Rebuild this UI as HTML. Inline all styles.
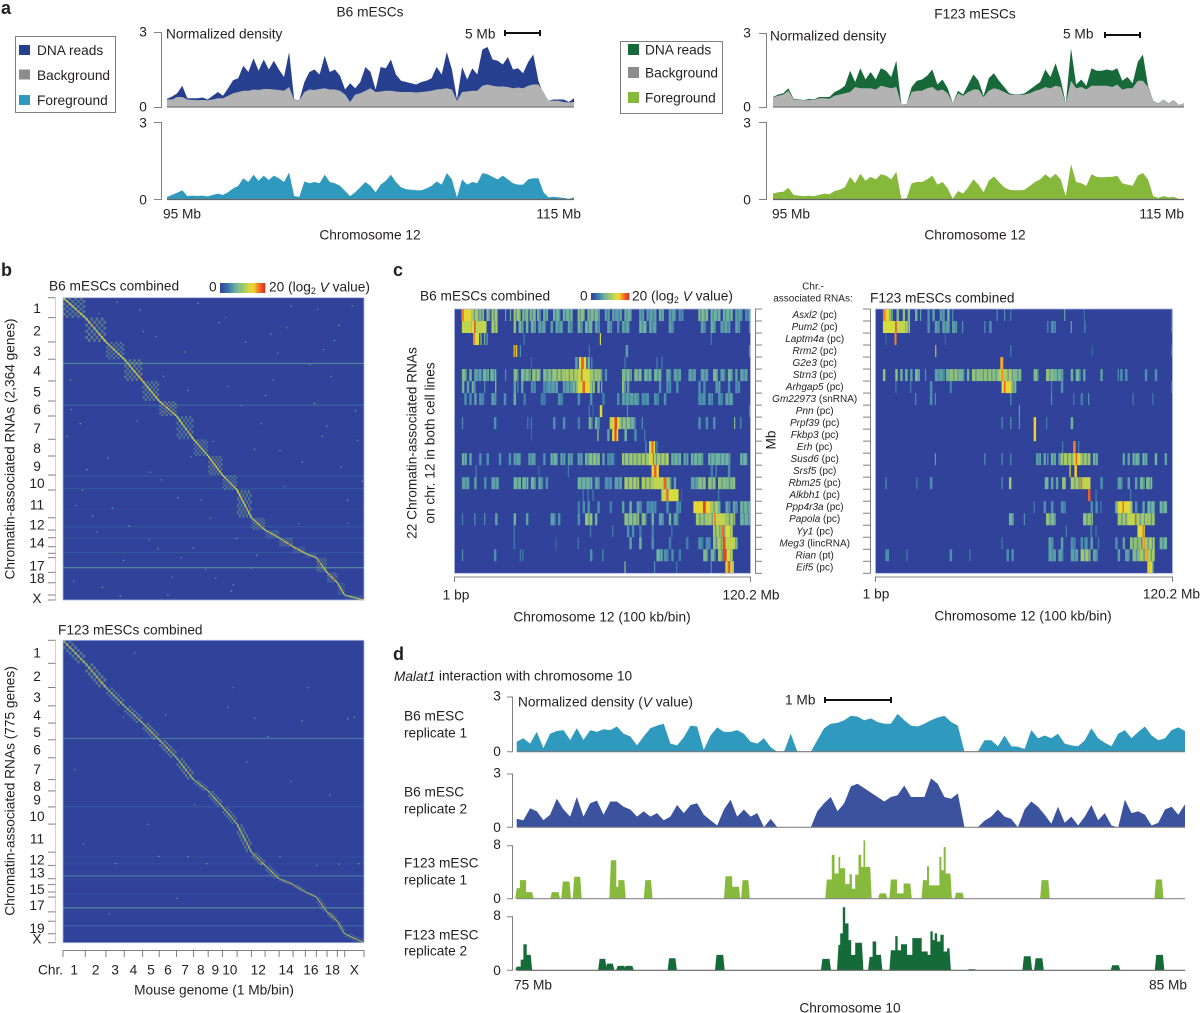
<!DOCTYPE html>
<html lang="en">
<head>
<meta charset="utf-8">
<title>Chromatin-associated RNA figure</title>
<style>
html,body{margin:0;padding:0;background:#fff;}
svg{display:block;font-family:"Liberation Sans",Arial,sans-serif;fill:#231f20;}
text{font-size:13.7px;}
.c{text-anchor:middle;}
.e{text-anchor:end;}
.m{dominant-baseline:central;}
.letter{font-size:18px;font-weight:bold;}
.ax{stroke:#808080;stroke-width:1;fill:none;}
.bar{stroke:#111;stroke-width:2;fill:none;}
</style>
</head>
<body>
<svg id="fig" xmlns="http://www.w3.org/2000/svg" width="1200" height="1013" viewBox="0 0 1200 1013">
  <g id="panel-a">
    <text class="letter m" x="1" y="8">a</text>
    <text class="c m" x="370" y="12">B6 mESCs</text>
    <rect x="15.5" y="36.5" width="100" height="76" fill="#fff" stroke="#808080"/>
    <rect x="19" y="45" width="11" height="10" fill="#26408F"/>
    <rect x="19" y="69.500" width="11" height="10" fill="#8c8c8c"/>
    <rect x="19" y="95" width="11" height="10" fill="#2F9ABD"/>
    <text class="m" x="37" y="50.500">DNA reads</text>
    <text class="m" x="37" y="75.500">Background</text>
    <text class="m" x="37" y="100.500">Foreground</text>
    <text class="c m" x="143" y="32">3</text>
    <text class="c m" x="143" y="107">0</text>
    <path class="ax" d="M154 32.500H161.500V107.500H154"/>
    <text class="c m" x="143" y="123">3</text>
    <text class="c m" x="143" y="200">0</text>
    <path class="ax" d="M154 122.500H161.500V199.500H154"/>
    <text class="m" x="166" y="34">Normalized density</text>
    <text class="m" x="465" y="34">5 Mb</text>
    <path class="bar" d="M505 33H540M505 30V36M540 30V36"/>
    <text class="m" x="163" y="214">95 Mb</text>
    <text class="e m" x="581" y="214">115 Mb</text>
    <text class="c m" x="370" y="235">Chromosome 12</text>

    <text class="c m" x="975" y="14">F123 mESCs</text>
    <rect x="620.500" y="41.500" width="102" height="72" fill="#fff" stroke="#808080"/>
    <rect x="628" y="44" width="11" height="11" fill="#17693A"/>
    <rect x="628" y="67" width="11" height="11" fill="#8c8c8c"/>
    <rect x="628" y="92" width="11" height="11" fill="#85B83B"/>
    <text class="m" x="645" y="50">DNA reads</text>
    <text class="m" x="645" y="73">Background</text>
    <text class="m" x="645" y="98">Foreground</text>
    <text class="c m" x="747" y="33">3</text>
    <text class="c m" x="747" y="107">0</text>
    <path class="ax" d="M759 33.500H766.500V107.500H759"/>
    <text class="c m" x="747" y="123">3</text>
    <text class="c m" x="747" y="200">0</text>
    <path class="ax" d="M759 122.500H766.500V199.500H759"/>
    <text class="m" x="770" y="36">Normalized density</text>
    <text class="m" x="1063" y="34">5 Mb</text>
    <path class="bar" d="M1105 35H1140M1105 32V38M1140 32V38"/>
    <text class="m" x="772" y="214">95 Mb</text>
    <text class="e m" x="1184" y="214">115 Mb</text>
    <text class="c m" x="975" y="235">Chromosome 12</text>
  </g>

  <g id="panel-b">
    <text class="letter m" x="1" y="270">b</text>
    <text class="m" x="49" y="286">B6 mESCs combined</text>
    <text class="m" x="209" y="287">0</text>
    <text class="m" x="269" y="287">20 (log<tspan font-size="9" dy="4">2</tspan><tspan dy="-4"> </tspan><tspan font-style="italic">V</tspan> value)</text>
    <text class="c m" transform="translate(10 449) rotate(-90)">Chromatin-associated RNAs (2,364 genes)</text>
    <text class="m" x="58" y="630">F123 mESCs combined</text>
    <text class="c m" transform="translate(10 791) rotate(-90)">Chromatin-associated RNAs (775 genes)</text>
    <text class="m" x="38" y="970">Chr.</text>
    <text class="c m" x="214" y="990">Mouse genome (1 Mb/bin)</text>
  </g>

  <g id="panel-c">
    <text class="letter m" x="393" y="270">c</text>
    <text class="m" x="420" y="296">B6 mESCs combined</text>
    <text class="m" x="580" y="296">0</text>
    <text class="m" x="632" y="296">20  (log<tspan font-size="9" dy="4">2</tspan><tspan dy="-4"> </tspan><tspan font-style="italic">V</tspan> value)</text>
    <text class="c m" transform="translate(412 443) rotate(-90)">22 Chromatin-associated RNAs</text>
    <text class="c m" transform="translate(430 443) rotate(-90)">on chr. 12 in both cell lines</text>
    <text class="c m" transform="translate(771 440) rotate(-90)">Mb</text>
    <text class="c m" x="813" y="287" style="font-size:10px">Chr.-</text>
    <text class="c m" x="813" y="299" style="font-size:10px">associated RNAs:</text>
    <text class="m" x="870" y="298">F123 mESCs combined</text>
    <path class="ax" d="M454.500 582V577H750.500V582"/>
    <path class="ax" d="M875.500 582V577H1172.500V582"/>
    <text class="c m" x="456" y="595">1 bp</text>
    <text class="c m" x="751" y="595">120.2 Mb</text>
    <text class="c m" x="602" y="617">Chromosome 12 (100 kb/bin)</text>
    <text class="c m" x="876" y="594">1 bp</text>
    <text class="e m" x="1200" y="594">120.2 Mb</text>
    <text class="c m" x="1023" y="616">Chromosome 12 (100 kb/bin)</text>
  </g>

  <g id="panel-d">
    <text class="letter m" x="393" y="654">d</text>
    <text class="m" x="394" y="676"><tspan font-style="italic">Malat1</tspan> interaction with chromosome 10</text>
    <text class="m" x="404" y="716">B6 mESC</text>
    <text class="m" x="404" y="733">replicate 1</text>
    <text class="m" x="404" y="792">B6 mESC</text>
    <text class="m" x="404" y="809">replicate 2</text>
    <text class="m" x="404" y="863">F123 mESC</text>
    <text class="m" x="404" y="880">replicate 1</text>
    <text class="m" x="404" y="935">F123 mESC</text>
    <text class="m" x="404" y="951">replicate 2</text>
    <text class="m" x="518" y="702">Normalized density (<tspan font-style="italic">V</tspan> value)</text>
    <text class="m" x="785" y="700">1 Mb</text>
    <path class="bar" d="M825 700H891M825 697V703M891 697V703"/>
    <text class="m" x="514" y="985">75 Mb</text>
    <text class="e m" x="1187" y="985">85 Mb</text>
    <text class="c m" x="850" y="1008">Chromosome 10</text>
  </g>
</svg>

<script>
/* ---------- panel a data: density per 0.25 Mb bin, 95-115 Mb ---------- */
const aB6Reads=[.33,.42,.55,.85,.35,.35,.35,.38,.3,.45,.6,.45,.75,1.07,1.15,1.65,1.4,1.95,1.45,1.9,1.5,1.85,1.5,1.2,2.2,.3,.27,1.0,1.4,1.5,1.3,2.05,1.4,1.5,1.25,.7,.95,.75,1.0,1.6,1.4,.7,1.6,1.55,1.9,1.3,1.05,1.0,.95,.9,1.0,1.05,1.15,1.6,1.3,2.2,1.5,.3,1.6,1.1,1.55,1.3,2.3,2.4,1.9,1.85,1.7,2.0,1.5,1.55,1.35,1.8,2.1,1.05,.5,.25,.3,.3,.3,.2,.35];
const aB6Background=[.3,.3,.4,.4,.3,.28,.27,.28,.27,.3,.35,.35,.45,.55,.6,.65,.65,.7,.68,.72,.72,.7,.68,.65,.8,.28,.27,.6,.7,.68,.72,.75,.7,.7,.65,.5,.2,.5,.55,.65,.75,.6,.62,.65,.65,.62,.6,.6,.6,.58,.6,.62,.65,.7,.72,.75,.7,.25,.6,.62,.65,.65,.85,.9,.85,.82,.82,.8,.75,.78,.75,.85,.9,.9,.6,.25,.25,.25,.2,.18,.2];
const aB6Foreground=[.12,.2,.28,.38,.15,.17,.16,.17,.14,.2,.25,.2,.3,.45,.55,.85,.7,.98,.75,.95,.78,.95,.85,.7,1.07,.15,.12,.72,.65,.7,.65,.98,.7,.65,.55,.35,.15,.3,.5,.7,.55,.3,.6,.75,.98,.7,.5,.42,.4,.38,.38,.45,.55,.72,.6,1.05,.8,.1,.8,.6,.7,.65,1.05,1.0,.9,.8,.95,.8,.65,.6,.6,.8,.85,.85,.3,.1,.13,.1,.08,.04,.1];
const aF123Reads=[.4,.5,.55,.75,.33,.3,.28,.32,.3,.4,.4,.4,.6,.7,.85,1.45,1.0,1.55,1.1,1.4,1.1,1.55,1.45,1.2,1.85,.1,.12,.8,1.05,1.1,1.25,1.5,.9,1.1,.75,.15,.65,.5,.9,1.3,1.05,.45,1.15,1.35,1.05,.8,.55,.5,.5,.55,.7,.85,1.0,1.5,1.2,1.75,1.1,.15,2.35,.9,1.1,.85,1.55,1.45,1.45,1.5,1.45,1.55,1.05,1.2,.95,1.8,2.1,.85,.25,.15,.3,.15,.28,.08,.15];
const aF123Background=[.38,.45,.5,.65,.3,.28,.27,.28,.28,.35,.35,.33,.45,.5,.55,.6,.8,.75,.75,.75,.7,.85,.8,.75,.8,.1,.12,.6,.65,.65,.75,.8,.65,.7,.55,.15,.55,.45,.6,.7,.7,.4,.65,.75,.7,.6,.5,.48,.48,.5,.55,.65,.7,.8,.75,.85,.8,.15,1.05,.75,.8,.7,.85,.85,.85,.85,.8,.9,.7,.75,.75,1.05,1.05,.8,.25,.15,.3,.15,.28,.08,.15];
const aF123Foreground=[.25,.3,.32,.48,.2,.17,.15,.17,.15,.2,.25,.22,.35,.4,.5,.9,.65,1.02,.75,.9,.8,1.0,.95,.8,1.1,.05,.07,.65,.7,.7,.8,.95,.6,.7,.45,.05,.35,.25,.5,.8,.6,.3,.75,.92,.7,.5,.4,.38,.38,.4,.55,.7,.8,1.0,.85,1.02,.8,.15,1.4,.7,.65,.55,1.0,.9,.88,.9,.9,.95,.65,.6,.55,.95,1.05,.8,.15,.08,.15,.1,.12,.04,.05];

/* ---------- panel d data: V value per 0.1 Mb bin, 75-85 Mb ---------- */
const dB6Rep1=[.55,.75,.45,1.1,.2,1.0,1.15,1.2,.65,1.3,.65,1.2,1.1,1.25,1.2,1.4,1.0,.85,.35,.85,1.3,1.45,1.55,.45,.35,.8,1.45,1.4,.1,.9,1.35,1.1,1.1,1.2,1.0,.55,.45,.75,.25,0,0,1.0,0,0,0,.65,1.3,1.55,1.6,1.75,2.0,1.95,1.75,1.85,1.65,1.55,1.55,2.1,1.75,1.45,1.4,1.55,1.75,1.9,2.0,1.65,1.45,0,0,0,.64,.64,.3,.9,.3,.28,.15,1.2,.75,.9,.75,1.0,.45,.35,.3,.64,1.3,.75,.5,.3,1.0,1.2,.75,1.1,1.4,.9,.64,.75,1.2,1.35,1.15];
const dB6Rep2=[.47,.4,1.07,.9,.4,.7,1.6,1.0,.6,1.7,.6,1.35,1.5,.7,1.45,1.45,1.15,1.0,.6,.9,.6,.8,.4,.6,1.25,.8,1.25,1.35,.7,.4,.1,1.0,1.55,.6,1.0,.6,.8,0,.47,0,0,0,0,0,0,.9,1.35,1.7,.9,1.35,2.3,2.45,2.2,1.95,1.7,1.45,1.7,1.8,2.35,1.7,1.7,1.7,2.75,2.45,1.7,1.6,1.9,0,0,0,.37,.6,1.0,.6,.47,0,1.0,1.45,1.15,.7,.2,1.15,.25,.6,.1,.6,1.25,.4,.8,.1,0,1.55,.8,.9,.7,.1,.25,1.0,1.15,.7,1.3];
/* run-length tracks: start Mb, end Mb, V value */
const dF123Rep1Start=[75,75.05,75.14,75.525,75.69,75.86,76.41,76.49,76.52,76.925,78.125,78.225,78.38,79.64,79.715,79.755,79.815,79.84,79.915,79.98,80.015,80.065,80.115,80.155,80.19,80.215,80.43,80.6,80.69,80.79,81.08,81.14,81.17,81.24,81.325,81.355,81.39,81.42,81.575,82.855,84.565];
const dF123Rep1End=[75.05,75.14,75.23,75.625,75.79,75.95,76.49,76.52,76.61,77.01,78.225,78.325,78.465,79.715,79.755,79.815,79.84,79.915,79.98,80.015,80.065,80.115,80.155,80.19,80.215,80.29,80.525,80.69,80.79,80.89,81.14,81.17,81.24,81.325,81.355,81.39,81.42,81.49,81.67,82.955,84.655];
const dF123Rep1V=[1.6,2.8,1,1,2.6,3.3,5.8,1.8,2.8,2.8,3.4,1.8,2.8,2.9,6.6,3.8,6.3,4.6,2.2,3.7,1.5,3.6,6.6,4.8,8.8,4.8,.8,2.9,.8,2.3,2.8,4.9,2,2,6.3,4.3,7.8,3.8,.9,2.8,2.9];
const dF123Rep2Start=[75,75.06,75.1,75.15,76.24,76.35,76.51,76.63,77.28,77.99,79.575,79.815,79.84,79.88,79.915,79.965,80.005,80.065,80.28,80.325,80.38,80.6,80.665,80.7,80.75,80.84,80.92,81.06,81.15,81.19,81.225,81.255,81.29,81.34,81.39,81.44,81.765,82.59,82.765,83.91,84.57];
const dF123Rep2End=[75.06,75.1,75.15,75.21,76.325,76.44,76.61,76.73,77.375,78.09,79.68,79.84,79.88,79.915,79.965,80.005,80.065,80.165,80.325,80.38,80.45,80.665,80.7,80.75,80.84,80.92,81.06,81.15,81.19,81.225,81.255,81.29,81.34,81.39,81.44,81.475,81.855,82.69,82.865,84.01,84.67];
const dF123Rep2V=[.55,1.6,3.9,2.3,1.7,1,.65,.65,1.8,2.3,1.7,3.8,5.5,9.4,7,4.5,2.3,4.1,2,4.3,2.3,3,5.1,3,3.9,2.3,4.8,2.8,2.3,5.8,4.5,5.5,4.3,5.3,2.8,3.3,.15,2.1,1.8,.75,2.3];

/* ---------- panel b data ---------- */
const chrNames=['1','2','3','4','5','6','7','8','9','10','11','12','13','14','15','16','17','18','19','X'];
const chrLengthsMb=[201,186,165,165,150,156,153,132,129,132,129,123,126,126,111,99,96,93,66,174];
const b6GeneCounts=[156,190,135,170,157,117,182,131,149,117,217,96,60,70,52,34,115,81,96,39];
const f123GeneCounts=[59,62,47,44,43,46,56,29,41,44,72,34,34,15,19,13,38,24,32,23];
const b6RowLabels=['1','2','3','4','5','6','7','8','9','10','11','12','14','17','18','X'];
const f123RowLabels=['1','2','3','4','5','6','7','8','9','10','11','12','13','15','17','19','X'];
const bottomChrLabels=['1','2','3','4','5','6','7','8','9','10','12','14','16','18','X'];
const b6Haze=[.62,.66,.6,.7,.62,.68,.56,.56,.66,.58,.62,.62,.5,.6,.55,.45,.62,.62,.45,.4];
const f123Haze=[.5,.6,.45,.5,.62,.62,.62,.5,.5,.55,.55,.65,.5,.5,.5,.4,.4,.55,.45,.4];
const b6Diag=[[15,14,13,14,13,15,15,14],[14,14,15,13,13,14,16,16],[14,13,14,15,13,14,15,15],[14,13,14,14,15,14,16,18],[14,14,13,15,14,14,16,14],[15,15,16,15,14,15,14,15],[14,15,14,13,14,15,14,15],[15,15,14,14,15,14,14,14],[15,15,14,16,15,14,15,14],[14,15,14,13,14,14,15,15],[16,15,14,14,14,15,15,14],[14,14,14,15,16,15,14,15],[14,14,15,15,14,14,15,14],[14,14,15,15,16,15,14,14],[15,15,15,16,15,14,15,14],[14,14,14,15,14,14,14,14],[14,14,16,15,14,14,15,15],[15,14,15,15,16,16,15,14],[14,15,14,16,16,15,15,14],[13,13,13,13,14,14,13,15]];
const f123Diag=[[13,15,14,14,15,14,15,15],[14,16,15,14,14,15,16,15],[14,13,14,14,13,15,15,14],[13,14,15,13,14,15,15,14],[14,14,14,15,16,15,14,14],[15,14,15,15,15,15,14,14],[14,14,13,15,15,16,15,15],[14,14,13,14,15,15,14,14],[14,13,14,15,16,16,15,15],[14,15,14,15,14,15,15,14],[15,15,14,15,14,15,15,14],[14,14,15,14,14,16,17,16],[14,14,15,15,14,15,15,15],[14,15,14,15,14,15,15,14],[14,15,15,14,14,15,15,14],[14,14,14,14,15,14,14,14],[14,14,15,18,18,15,14,14],[14,15,15,15,15,15,14,14],[18,15,15,15,14,15,14,14],[14,14,14,15,14,15,14,14]];
const b6StripeGene=[509,835,1388,1487,1649,1788,1876,1989,2106];
const b6StripeLevel=[7,5,4,4,3,4,4,4,7];
const f123StripeGene=[250,425,553,571,602,648,684,730];
const f123StripeLevel=[6,4,3,3,6,3,7,5];
const b6SpeckleMb=[60,320,690,1210,1460,2050,2290,2480,150,400,880,1120,1640,1930,2410,2630,260,770,1030,1350,1780,2150,2560,90,540,980,1510,1890,2330,2690,210,620,1280,1720,2010,2440,350,830,1170,1600,480,720,1090,1400,1820,2220,2600,110,590,940,1320,1560,1990,2370,30,440,850,1240,1690,2120,2500,170,660,1060,1480,1870,2260,2650,300,780,1150,1530,1950,2340,2560,70,510,900,1370,1740];
const b6SpeckleGene=[640,120,90,40,150,60,85,210,980,1250,1420,720,340,430,610,880,1700,1890,1560,1120,980,1280,1760,2210,2050,2180,2290,640,1080,1430,1340,560,2120,1180,230,330,2260,300,1950,840,30,260,420,190,760,520,60,1620,1780,2320,1720,1880,1470,1000,1080,1640,1960,1580,2110,1760,1320,1500,960,2030,690,280,820,1110,1830,1360,1240,2240,1190,400,1580,870,2330,610,2190,2010];
const b6SpeckleVal=[7,6,7,8,6,7,6,7,8,7,6,7,8,6,7,9,7,6,8,7,6,7,6,7,8,6,7,6,7,6,8,7,6,7,6,7,8,6,7,6,7,6,7,8,7,6,7,6,8,7,6,7,6,7,8,6,7,6,7,6,7,8,6,7,6,7,8,7,6,7,6,8,7,6,7,6,7,8,6,7];
const f123SpeckleMb=[330,540,920,1480,1720,2150,2560,2620,180,760,1180,1650,2050,2400,410,1020,1530,1840,2280,640,100,860,1290,1950,2480,2660,470,1120,1780,2200];
const f123SpeckleGene=[105,195,190,170,198,205,200,196,520,470,420,310,360,395,700,660,120,245,575,30,330,552,571,553,572,571,571,553,572,120];
const f123SpeckleVal=[6,6,7,7,7,7,9,7,6,6,6,7,6,7,6,6,6,7,6,6,6,7,7,7,8,7,7,7,7,6];

/* ---------- panel c data: runs of [start Mb, end Mb, log2 V] per RNA ---------- */
const geneNames=['Asxl2','Pum2','Laptm4a','Rrm2','G2e3','Strn3','Arhgap5','Gm22973','Pnn','Prpf39','Fkbp3','Erh','Susd6','Srsf5','Rbm25','Alkbh1','Ppp4r3a','Papola','Yy1','Meg3','Rian','Eif5'];
const geneTypes=['pc','pc','pc','pc','pc','pc','pc','snRNA','pc','pc','pc','pc','pc','pc','pc','pc','pc','pc','pc','lincRNA','pt','pc'];
const cB6Runs=[
[[2.8,3.8,17],[3.8,7,14],[7,10,11],[10,12,8],[13,14.5,9],[15,17.5,10],[20.5,21,6],[22.5,23,7],[24,27,10],[27.5,30,8],[30.5,33,8],[33.5,35,7],[36,38,7],[40,43,7],[44,48,7],[50,53,9],[54,59,8],[61,63,6],[64,68,6],[69,72,7],[75,77,6],[78,82,6],[83,85,7],[87,90,6],[91,93,5],[99,103,8],[104,108,7],[109,113,7],[114,117,6],[118,120,5],[119.7,120.2,7]],
[[3,7,12],[7,8,13],[8,8.6,18],[8.6,13,12],[15,17.5,11],[24,25,9],[26,28,7],[29,30,7],[31,33,7],[34,37,6],[39,40,6],[41,44,6],[46,48,6],[50,52,7],[53,56,7],[57,59,6],[62,64,6],[66,67,5],[68,71,6],[75,78,7],[79,82,6],[87,89,6],[100,102,6],[104,106,7],[108,112,6],[114,116,6],[119.7,120.2,7]],
[[7.5,8.3,17],[8.3,10,13],[10.5,11,9],[12,12.5,8],[13,13.5,6],[28,28.5,4],[59,59.5,13],[104,104.5,4]],
[[24,24.5,15],[24.5,25,19],[25,25.5,15],[26.5,27,5],[54.5,55,4],[69.5,70.5,6],[119.7,120.2,7]],
[[31,31.5,3],[49,50,6],[50.5,51.5,13],[51.5,52.5,18],[52.5,53.5,13],[54,55,7],[55.5,56,5],[69,69.5,4],[82,82.5,4],[84,84.5,4]],
[[3,5,8],[6,7,7],[8,11,6],[11.5,14,7],[14.5,17,7],[20.5,21,5],[24,26,8],[27,31,8],[31.5,35,9],[36,40,8],[40,45,10],[45,50,11],[50,51.5,12],[51.5,52,18],[52,55,13],[55,58,10],[58,60,9],[61,62,5],[68,72,8],[73,76,8],[77,80,7],[81,84,7],[86,88,6],[89,92,6],[95,98,6],[100,103,6],[105,107,8],[108,110,6],[111,113,7],[114,115,6],[116,119,6]],
[[3,4,7],[5,6,6],[7,8.5,7],[12,12.5,5],[16.5,17,9],[24,25,6],[25.5,26,5],[27,28,6],[31,33,5],[36,38,5],[38,42,6],[44,48,6],[48,50,8],[50,52,13],[52,53,18],[53,55,14],[55,57,10],[58,59,8],[59.5,60,7],[68,69.5,9],[70,71,6],[83,84,5],[86,88,5],[90,91,5],[99,100,5],[101,102,5],[106,108,6],[111,112,5],[114,116,5]],
[[4,5,5],[6,7,5],[8,9,6],[10,12,5],[15,17,6],[20,21,5],[24,25,7],[28,29,4],[35,37,4],[42,44,5],[50,51,5],[55,56,5],[60,61,4],[66,67,5],[68,75,6],[76,79,5],[81,83,5],[85,86,5],[99,102,5],[103,105,5],[107,109,5],[110,113,6]],
[[54.5,55,4],[56,56.5,3],[59,60,14],[70,70.5,5],[119.7,120.2,6]],
[[3,3.5,5],[16,17,5],[29.5,30,4],[31,31.5,4],[40,41,5],[44,45,5],[50,51,4],[54.5,56,8],[57,58,7],[58,59,5],[63,64,12],[64,65,14],[65,66,19],[66,67,13],[67,72,9],[72,73.5,7],[76,76.5,5],[99,100,5],[102,103,5],[105,106,5],[113.5,114,8],[116,116.5,5]],
[[31,31.5,3],[58,58.5,10],[62,63,6],[64,65,14],[65,65.8,19],[65.8,66.5,14],[69,70,7],[73,74,5],[77,77.5,4]],
[[77.5,78,5],[79,80,13],[80,80.8,18],[80.8,81.5,13],[82,82.5,5]],
[[3,5,7],[6,7,6],[10,11,5],[13,14,5],[18,19,5],[22,23,5],[24,27,6],[30,33,6],[36,37,5],[39,42,7],[43,45,6],[46,48,6],[50,52,6],[53,55,7],[55,59,9],[60,61,6],[62,65,5],[68,79,10],[79,81,13],[81,87,11],[80.5,81,18],[88,92,7],[93,95,6],[96,101,7],[103,107,7],[107,112,7],[116,119,7]],
[[8.5,9,4],[34,34.5,3],[46,46.5,4],[80,81,14],[81,82,18],[82,83,15],[104,105,4],[106,106.5,5],[111,112,5]],
[[3,6,6],[8,9,6],[12,13,5],[15,18,6],[24,27,7],[27.5,30,7],[31,33,7],[34,36,6],[37,38,5],[50,56,7],[57,59,6],[61,64,5],[65,68,6],[69,75,11],[76,81,11],[81,85,12],[85,86,18],[86,88,10],[89,90,6],[96,99,6],[99,102,9],[103,106,9],[107,110,9],[110,113,8],[113,114,9]],
[[52,52.5,4],[54,54.5,4],[56,56.5,4],[84,87,12],[87,91,13],[86,86.8,18],[92,92.5,3],[107,107.5,4]],
[[50,51,4],[52,53,5],[54,55,5],[58,59,5],[63,64,4],[68,69,6],[71,72,7],[74,76,6],[78,82,5],[86,87,5],[90,92,5],[97,101,14],[101,102,19],[102,104,14],[104,107,11],[107,108,7],[110,112,6],[113,115,6],[116,120,7]],
[[3,3.5,4],[8,8.5,5],[12,12.5,5],[16.5,17.5,6],[24,25,7],[29,30,6],[39,41,6],[42,43,5],[50,51,5],[53,56,9],[57,58,7],[69,75,9],[76,78,8],[80,81,7],[83,85,6],[87,88,7],[89,91,6],[98,103,10],[103,105,11],[105,106,13],[106,110,12],[105.5,106,18],[110,114,10],[116,120,7]],
[[24,24.5,4],[55,55.5,4],[64,64.5,4],[70,71,5],[72,73,5],[75,76,4],[80,81,4],[88,88.5,4],[105,110,11],[108.5,109.5,18],[110,112,13],[112,113,11]],
[[24,24.5,4],[41,41.5,3],[50,50.5,4],[71,72,6],[75,76,7],[80,81,5],[87,88,4],[94,95,4],[99,101,5],[102,103,5],[103,104,5],[105,107,9],[107,109,11],[109,110,19],[110,114,12],[114,115,7]],
[[3,3.5,5],[16,17,5],[26.5,27,4],[27.5,28,4],[55,56,5],[60,60.5,5],[82,84.5,7],[85,87,5],[88,89,5],[91,92,4],[101,103,8],[104,106,7],[107,109,10],[109,110.5,19],[110.5,112,13],[112,113,11]],
[[69,69.5,9],[81,81.5,5],[90,90.5,4],[104,104.5,5],[110,111,14],[111,112,18],[112,113,13],[113,113.5,11]]
];
const cF123Runs=[
[[3,4,17],[4,5.5,14],[5.5,7,9],[8.5,9.5,8],[11,12,9],[13,14,8],[16,17,7],[18,18.5,6],[21,22,5],[23,24,6],[26,28,6],[29,30,7],[31,31.5,5],[49,49.5,5],[52,52.5,5],[54.5,55,4],[76.3,76.8,6],[84.3,84.6,5],[119.8,120.2,6]],
[[3,8,13],[8,8.6,18],[8.6,12,12],[12,14,11],[21,22,5],[24,26,6],[27,30,6],[31,33,6],[35,35.5,5],[44,44.5,5],[46,47,5],[69.5,70,5],[71,73,5],[79,79.5,6],[84.5,85,5],[119.8,120.2,6]],
[[4,4.5,3],[7.7,8.5,17],[28,28.5,3]],
[[24.2,24.6,15],[54.5,55,4],[87.5,88,3],[119.8,120.2,6]],
[[50.5,51.7,16]],
[[3,4,9],[8,9,9],[10,11,7],[12,13,7],[14,15,6],[16,17,8],[17,18,6],[20,20.5,5],[24,28,6],[28.5,30,7],[30,34,9],[34,36,7],[37,38,7],[39,42,9],[42,50,9],[50,52,12],[52,56,11],[51,51.6,17],[56,59,8],[64,66,8],[69,72,9],[72,76,7],[79,80,7],[81,83,7],[84,85,6],[91,92,6],[98,98.5,5],[99,100,5],[101,102,5],[109,110,5],[113,114,5]],
[[8,8.5,4],[14,14.5,4],[22,23,5],[30,31,4],[51,52,13],[52,52.6,18],[52.6,55,14],[55,57,8],[71,71.5,4],[75,76,5],[119.8,120.2,6]],
[[16,16.5,5],[22,23,5],[24,24.5,5],[54.5,55,5],[71,71.5,5],[80,80.5,4],[83,84,4],[86,86.5,5],[104,104.5,4],[112,112.5,4]],
[[58,58.5,6]],
[[51,51.5,5],[54.5,55,5],[58,58.5,5],[64,65,15],[69,69.5,4],[79,80,7]],
[[64,65,15]],
[[75.5,76,4],[80,81,17],[82,82.5,4]],
[[24,24.5,6],[44,44.5,5],[51,51.5,5],[54.5,55,5],[65,67,6],[68,69,6],[69.5,70,6],[71,73,7],[74,75,6],[75,80,11],[80,83,13],[83,87,10],[81,81.6,18],[88,90,7],[100,101,6],[102,103,6],[104,107,7],[108,110,7],[113,114,7],[117,118,6]],
[[78.5,79,14],[80.5,81.5,15]],
[[4,4.5,5],[16.5,17,4],[22,23,5],[51,51.5,5],[54,55,10],[68.5,70,7],[71,72,6],[73,74,6],[75.5,77,9],[79,84,11],[84,87,12],[83,83.5,18],[91,92,5],[98,100,6],[102,103,6],[105,106,6],[107,109,7],[109.5,112,8]],
[[86,87,18],[89,89.5,4],[103,103.5,4]],
[[64,64.5,4],[68,69,5],[71,72,5],[75,77,5],[87,88,5],[89,90,5],[91,91.5,4],[97,98,7],[98,103,14],[100,100.5,18],[103,104,10],[105,106,5],[108,109,6],[110,113,7],[115,118,7]],
[[54,56,7],[60,60.5,5],[69,71,9],[71,73,8],[84,88,9],[98,102,10],[102,105,12],[105.5,110,11],[105,105.5,18],[110,113,10]],
[[77,77.5,4],[87,87.5,5],[89,89.5,4],[106,109,13],[108,108.7,17]],
[[51,51.5,4],[70,72,6],[75,76,6],[79,81,5],[83,84,5],[84.5,86,5],[87,88,6],[90,90.5,4],[97,98,5],[100,101,6],[103,108,9],[109,113,11],[108,109,16],[115,118,7]],
[[4,5.5,5],[12.5,13,4],[30,31,5],[38,38.5,4],[53,54,5],[55,56,5],[70,73,6],[74,76,6],[79,82,6],[83,87,10],[88,90,6],[98,99,6],[101,103,6],[104,107,8],[107,109,11],[110,113,11],[109,110,16]],
[[110,111,15],[111,112,13],[112,112.5,9]]
];

/* ---------- colour scale ---------- */
const scaleLevels=[0,3,5,7,9,11,13,15,17,20];
const scaleColors=['#30429A','#3A6AA5','#4C8FAE','#6DB39E','#8FC07C','#A9CC62','#D6DC3E','#F4D12C','#F2802A','#E0261F'];

const NS='http://www.w3.org/2000/svg';
const fig=document.getElementById('fig');
function linear(d0,d1,r0,r1){return v=>r0+(v-d0)*(r1-r0)/(d1-d0);}
function hexRgb(h){return [1,3,5].map(i=>parseInt(h.substr(i,2),16));}
function levelColor(v){
  if(v<=scaleLevels[0])return scaleColors[0];
  for(let i=1;i<scaleLevels.length;i++){
    if(v<=scaleLevels[i]){
      const t=(v-scaleLevels[i-1])/(scaleLevels[i]-scaleLevels[i-1]);
      const a=hexRgb(scaleColors[i-1]),b=hexRgb(scaleColors[i]);
      return 'rgb('+a.map((c,k)=>Math.round(c+(b[k]-c)*t)).join(',')+')';
    }
  }
  return scaleColors[scaleColors.length-1];
}
function svgEl(tag,props,parent){
  const el=document.createElementNS(NS,tag);
  for(const k in props)el.setAttribute(k,props[k]);
  (parent||fig).appendChild(el);
  return el;
}
function group(id,parent){
  const g=svgEl('g',{},parent);
  
  
  return g;
}

/* uniform-bin area track */
function areaTrack(parent,name,values,x0,x1,y0,pxPerUnit,color){
  const xs=linear(0,values.length-1,x0,x1);
  const ys=linear(0,1,y0,y0-pxPerUnit);
  let pts=xs(0).toFixed(1)+','+y0+' ';
  values.forEach((v,i)=>{pts+=xs(i).toFixed(1)+','+ys(v).toFixed(1)+' ';});
  pts+=xs(values.length-1).toFixed(1)+','+y0;
  const poly=svgEl('polygon',{points:pts,fill:color},parent);
  
  
}
/* run-length area track */
function runTrack(parent,name,starts,ends,vals,xs,y0,pxPerUnit,color){
  const ys=linear(0,1,y0,y0-pxPerUnit);
  let last=null,cur='';
  const flush=()=>{
    if(!cur)return;
    const poly=svgEl('polygon',{points:cur+(last+1.5).toFixed(1)+','+y0,fill:color},parent);
    
    
    cur='';
  };
  starts.forEach((s,i)=>{
    const a=xs(s),b=xs(ends[i]);
    if(last===null||a-last>0.6){flush();cur=(a-1.5).toFixed(1)+','+y0+' ';}
    cur+=a.toFixed(1)+','+ys(vals[i]).toFixed(1)+' '+b.toFixed(1)+','+ys(vals[i]).toFixed(1)+' ';
    last=b;
  });
  flush();
}
function baseline(parent,name,x0,x1,y,color){
  const l=svgEl('line',{x1:x0,x2:x1,y1:y,y2:y,stroke:color,'stroke-width':1.2},parent);
  
  
}

/* panel a */
const gA=group('panel-a-tracks');
areaTrack(gA,'b6-dna-reads-area',aB6Reads,167,574,107,25,'#26408F');
areaTrack(gA,'b6-background-area',aB6Background,167,574,107,25,'#B3B3B3');
baseline(gA,'b6-top-baseline',167,574,107,'#777');
areaTrack(gA,'b6-foreground-area',aB6Foreground,167,574,200,25.7,'#2F9ABD');
baseline(gA,'b6-bottom-baseline',167,574,199.5,'#666');
areaTrack(gA,'f123-dna-reads-area',aF123Reads,773,1184,107,25,'#17693A');
areaTrack(gA,'f123-background-area',aF123Background,773,1184,107,25,'#B3B3B3');
baseline(gA,'f123-top-baseline',773,1184,107,'#777');
areaTrack(gA,'f123-foreground-area',aF123Foreground,773,1184,200,25.7,'#85B83B');
baseline(gA,'f123-bottom-baseline',773,1184,199.5,'#666');

/* panel d */
const gD=group('panel-d-tracks');
const dX=linear(75,85,516.7,1185);
const dTrackAxes=[[697,751.7,'3'],[774,827.3,'3'],[845.7,898.7,'8'],[916.7,970.3,'8']];
dTrackAxes.forEach(t=>{
  const p=svgEl('path',{d:'M507 '+t[0]+'H512.500V'+t[1]+'H507',class:'ax'},gD);
  
  
  const top=svgEl('text',{x:497,y:t[0]-1,class:'c m'},gD);
  top.textContent=t[2];
  
  
  const bot=svgEl('text',{x:497,y:t[1],class:'c m'},gD);
  bot.textContent='0';
  
  
});
areaTrack(gD,'b6-replicate-1-area',dB6Rep1,dX(75),dX(85),751.7,18,'#2F9ABD');
areaTrack(gD,'b6-replicate-2-area',dB6Rep2,dX(75),dX(85),827.3,17.8,'#3B539F');
runTrack(gD,'f123-replicate-1-peak',dF123Rep1Start,dF123Rep1End,dF123Rep1V,dX,898.7,6.63,'#87B93C');
runTrack(gD,'f123-replicate-2-peak',dF123Rep2Start,dF123Rep2End,dF123Rep2V,dX,970.3,6.7,'#156B38');
baseline(gD,'d-baseline-1',516.7,1185,751.7,'#777');
baseline(gD,'d-baseline-2',516.7,1185,827.3,'#888');
baseline(gD,'d-baseline-3',516.7,1185,898.7,'#888');
baseline(gD,'d-baseline-4',516.7,1185,970.3,'#666');

/* colour bars */
function colorbar(parent,x,y,w,h){
  const n=40,s=linear(0,n,0,20),px=linear(0,n,x,x+w);
  for(let i=0;i<n;i++){
    const r=svgEl('rect',{x:px(i).toFixed(2),y:y,width:(w/n+.3).toFixed(2),height:h,fill:levelColor(s(i+.5))},parent);
    
    
  }
}
colorbar(group('colorbar-b'),220,283,45,10);
colorbar(group('colorbar-c'),591,293,38,7);

/* panel c heatmaps */
function runHeatmap(name,runs,x0,x1,y0,y1){
  const g=group(name);
  const bg=svgEl('rect',{x:x0,y:y0,width:x1-x0,height:y1-y0,fill:scaleColors[0]},g);
  
  
  const xs=linear(0,120.2,x0,x1);
  const rowH=(y1-y0)/runs.length;
  runs.forEach((row,ri)=>{
    row.forEach(c=>{
      const r=svgEl('rect',{x:xs(c[0]).toFixed(2),y:(y0+ri*rowH).toFixed(2),width:(xs(c[1])-xs(c[0])).toFixed(2),height:rowH.toFixed(2),fill:levelColor(c[2])},g);
      
      
      /* mid-level runs are finely striped in the bins */
      if(c[2]<=11&&c[1]-c[0]>=1.5){
        for(let m=c[0]+.8+(ri%3)*.3;m<c[1]-.3;m+=1.7){
          const gap=svgEl('rect',{x:xs(m).toFixed(2),y:(y0+ri*rowH).toFixed(2),width:1.3,height:rowH.toFixed(2),fill:scaleColors[1],opacity:.55},g);
          
          
        }
      }
    });
  });
  const fr=svgEl('rect',{x:x0,y:y0,width:x1-x0,height:y1-y0,fill:'none',stroke:'#a9b6de','stroke-width':.8},g);
  
  
}
runHeatmap('c-b6-heatmap',cB6Runs,454.5,750.5,309,573.3);
runHeatmap('c-f123-heatmap',cF123Runs,875.5,1172.5,309,573.3);

/* gene labels and brackets */
const gG=group('gene-labels');
const rowY=linear(0,geneNames.length,309,573.3);
for(let i=0;i<=geneNames.length;i++){
  const a=svgEl('line',{x1:755,x2:762,y1:rowY(i),y2:rowY(i),class:'ax'},gG);
  
  
  const b=svgEl('line',{x1:863,x2:870.500,y1:rowY(i),y2:rowY(i),class:'ax'},gG);
  
  
}
const bl=svgEl('line',{x1:755.500,x2:755.500,y1:309,y2:573.3,class:'ax'},gG);


const br=svgEl('line',{x1:870.500,x2:870.500,y1:309,y2:573.3,class:'ax'},gG);


geneNames.forEach((g,i)=>{
  const t=svgEl('text',{x:814.7,y:rowY(i+.5),class:'c m',style:'font-size:10px'},gG);
  
  
  const it=svgEl('tspan',{'font-style':'italic'},t);
  it.textContent=g;
  const ty=svgEl('tspan',{},t);
  ty.textContent=' ('+geneTypes[i]+')';
});

/* panel b heatmaps */
function cumulate(arr){const o=[0];arr.forEach(v=>o.push(o[o.length-1]+v));return o;}
function genomeHeatmap(opts){
  const g=group(opts.name);
  const cx=cumulate(chrLengthsMb), cy=cumulate(opts.genes);
  const xs=linear(0,cx[cx.length-1],63,364);
  const ys=linear(0,cy[cy.length-1],opts.y0,opts.y1);
  const bg=svgEl('rect',{x:63,y:opts.y0,width:301,height:opts.y1-opts.y0,fill:scaleColors[0]},g);
  
  
  /* row stripes */
  opts.stripeGene.forEach((s,i)=>{
    const r=svgEl('rect',{x:63,y:ys(s).toFixed(1),width:301,height:1.3,fill:levelColor(opts.stripeLevel[i]),opacity:(opts.stripeLevel[i]/12).toFixed(2)},g);
    
    
  });
  /* scattered bins */
  opts.spMb.forEach((m,i)=>{
    const r=svgEl('rect',{x:xs(m).toFixed(1),y:ys(opts.spGene[i]).toFixed(1),width:1.2,height:1.2,fill:levelColor(opts.spVal[i])},g);
    
    
  });
  /* chromosome blocks */
  chrLengthsMb.forEach((len,c)=>{
    const d=opts.diag[c], n=d.length;
    const bx=linear(0,n,cx[c],cx[c+1]), by=linear(0,n,cy[c],cy[c+1]);
    for(let i=0;i<n;i++){
      for(let j=0;j<n;j++){
        if(i===j||(i+j)%2===1)continue;
        if(Math.abs(i-j)>opts.reach)continue;
        const lev=Math.min(d[i],d[j])*opts.haze[c];
        const r=svgEl('rect',{x:xs(bx(j)).toFixed(1),y:ys(by(i)).toFixed(1),width:(xs(bx(j+1))-xs(bx(j))).toFixed(1),height:(ys(by(i+1))-ys(by(i))).toFixed(1),fill:levelColor(lev),opacity:opts.alpha},g);
        
        
      }
    }
    for(let i=0;i<n;i++){
      const halo=svgEl('rect',{x:xs(bx(i)).toFixed(1),y:ys(by(i)).toFixed(1),width:(xs(bx(i+1))-xs(bx(i))).toFixed(1),height:(ys(by(i+1))-ys(by(i))).toFixed(1),fill:levelColor(d[i]-4),opacity:opts.halo},g);
      
      
      const seg=svgEl('line',{x1:xs(bx(i)).toFixed(1),y1:ys(by(i)).toFixed(1),x2:xs(bx(i+1)).toFixed(1),y2:ys(by(i+1)).toFixed(1),stroke:levelColor(d[i]+(i%3===2?1.5:-2)),'stroke-opacity':opts.traceAlpha,'stroke-width':opts.trace},g);
      
      
    }
  });
  const fr=svgEl('rect',{x:63,y:opts.y0,width:301,height:opts.y1-opts.y0,fill:'none',stroke:'#a9b6de','stroke-width':.8},g);
  
  
  /* y axis */
  const ya=svgEl('line',{x1:55.500,x2:55.500,y1:opts.y0,y2:opts.y1,stroke:'#b0b0b0','stroke-width':.6},g);
  
  
  cy.forEach(v=>{
    const t=svgEl('line',{x1:48,x2:55.500,y1:ys(v),y2:ys(v),class:'ax'},g);
    
    
  });
  chrNames.forEach((nm,c)=>{
    if(opts.labels.indexOf(nm)<0)return;
    const t=svgEl('text',{x:37,y:ys((cy[c]+cy[c+1])/2)+1,class:'c m'},g);
    t.textContent=nm;
    
    
  });
  return {cx,xs};
}
genomeHeatmap({name:'b6-genome-heatmap',genes:b6GeneCounts,y0:297.7,y1:600,diag:b6Diag,haze:b6Haze,reach:8,alpha:.42,halo:.55,trace:1.4,traceAlpha:.8,stripeGene:b6StripeGene,stripeLevel:b6StripeLevel,spMb:b6SpeckleMb,spGene:b6SpeckleGene,spVal:b6SpeckleVal,labels:b6RowLabels});
const genomeAxis=genomeHeatmap({name:'f123-genome-heatmap',genes:f123GeneCounts,y0:640.3,y1:942.7,diag:f123Diag,haze:f123Haze,reach:2,alpha:.45,halo:.5,trace:1,traceAlpha:.7,stripeGene:f123StripeGene,stripeLevel:f123StripeLevel,spMb:f123SpeckleMb,spGene:f123SpeckleGene,spVal:f123SpeckleVal,labels:f123RowLabels});

/* genome x axis */
const gX=group('genome-x-axis');
const xAxisLine=svgEl('line',{x1:63,x2:364,y1:950.500,y2:950.500,class:'ax'},gX);


genomeAxis.cx.forEach(v=>{
  const t=svgEl('line',{x1:genomeAxis.xs(v),x2:genomeAxis.xs(v),y1:950,y2:957,class:'ax'},gX);
  
  
});
chrNames.forEach((nm,c)=>{
  if(bottomChrLabels.indexOf(nm)<0)return;
  const t=svgEl('text',{x:genomeAxis.xs((genomeAxis.cx[c]+genomeAxis.cx[c+1])/2),y:970,class:'c m'},gX);
  t.textContent=nm;
  
  
});
</script>
</body>
</html>
